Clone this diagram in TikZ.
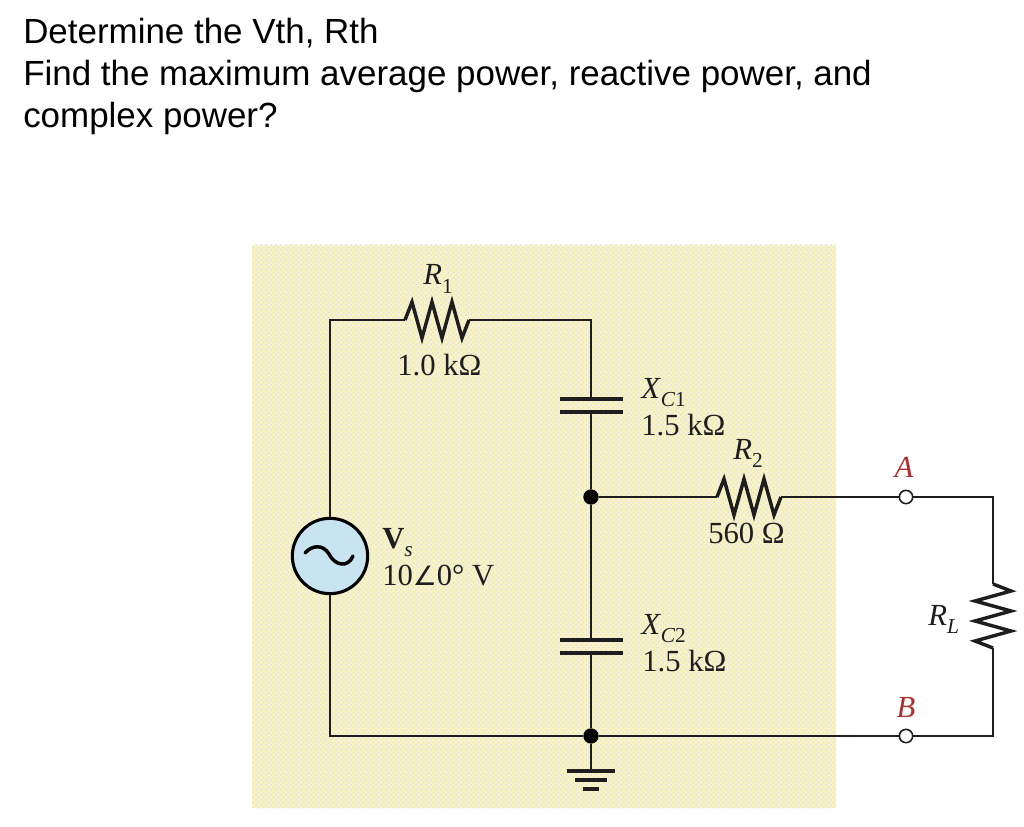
\documentclass[tikz,border=0pt]{standalone}
\usepackage{fontspec}
\setmainfont{Liberation Serif}
\newfontfamily\headfont{Liberation Sans}
\newfontfamily\symfont{DejaVu Sans}
\usetikzlibrary{patterns}
\pgfdeclarepatternformonly{ditherspeck}{\pgfqpoint{0pt}{0pt}}{\pgfqpoint{4pt}{4pt}}{\pgfqpoint{4pt}{4pt}}{
  \pgfpathcircle{\pgfqpoint{1pt}{1pt}}{0.95pt}
  \pgfpathcircle{\pgfqpoint{3pt}{3pt}}{0.95pt}
  \pgfusepath{fill}
}
\definecolor{panel}{RGB}{250,244,190}
\definecolor{speck}{RGB}{226,224,234}
\definecolor{srcblue}{RGB}{200,228,240}
\definecolor{termred}{RGB}{172,48,48}
\definecolor{ink}{RGB}{30,30,30}
\newcommand{\subs}[1]{\raisebox{-6.3pt}{\fontsize{16}{16}\selectfont #1}}
\tikzset{
  x=0.75pt,y=-0.75pt,
  wire/.style={draw=ink,line width=1.4pt},
  plate/.style={draw=ink,line width=3pt},
  head/.style={font=\headfont\fontsize{26.2}{30}\selectfont,anchor=base west,inner sep=0pt,text=black},
  lab/.style={font=\fontsize{23}{26}\selectfont,inner sep=0pt,text=ink,anchor=base west},
  term/.style={font=\fontsize{23}{26}\selectfont\itshape,inner sep=0pt,text=termred,anchor=base},
  junction/.style={circle,fill=black,draw=none,minimum size=11.5pt,inner sep=0pt},
  openterm/.style={circle,fill=white,draw=ink,line width=1.2pt,minimum size=10pt,inner sep=0pt},
  source/.style={circle,draw=black,line width=2.3pt,fill=srcblue,minimum size=56.5pt,inner sep=0pt},
  pics/res/.style={code={
    \coordinate (-a) at (0,0);
    \coordinate (-b) at (64,0);
    \draw[draw=ink,line width=2.6pt,line join=miter,miter limit=10]
      (0,0) -- (7,-18) -- (17,18) -- (27,-18) -- (37,18) -- (47,-18) -- (57,18) -- (64,0);
  }}
}
\begin{document}
\begin{tikzpicture}
\useasboundingbox (0,0) rectangle (1024,827);
\fill[white] (0,0) rectangle (1024,827);
\fill[panel] (252,245) rectangle (836,808);
\fill[pattern=ditherspeck,pattern color=speck] (252,245) rectangle (836,808);

\node[head] at (23,44) {Determine the Vth, Rth};
\node[head] at (23,86) {Find the maximum average power, reactive power, and};
\node[head] at (23,128) {complex power?};

% corner and end coordinates
\coordinate (tl) at (330,320);
\coordinate (tr) at (591,320);
\coordinate (c1t) at (591,399);
\coordinate (c1b) at (591,412);
\coordinate (c2t) at (591,640);
\coordinate (c2b) at (591,653);
\coordinate (bl) at (330,736);
\coordinate (atr) at (993,497);
\coordinate (btr) at (993,736);
\coordinate (g1) at (591,771);
\coordinate (g2) at (591,780);
\coordinate (g3) at (591,789);

\node[source] (vs) at (330,556) {};
\node[junction] (n1) at (591,497) {};
\node[junction] (n2) at (591,736) {};
\node[openterm] (A) at (906,497) {};
\node[openterm] (B) at (906,736) {};

\pic (r1) at (405,320) {res};
\pic (r2) at (717,497) {res};
\pic[rotate=90] (rl) at (993,648) {res};

% wires
\draw[wire] (vs.north) -- (tl) -- (r1-a);
\draw[wire] (r1-b) -- (tr) -- (c1t);
\draw[wire] (c1b) -- (n1);
\draw[wire] (n1) -- (r2-a);
\draw[wire] (r2-b) -- (A);
\draw[wire] (A) -- (atr) -- (rl-b);
\draw[wire] (n1) -- (c2t);
\draw[wire] (c2b) -- (n2);
\draw[wire] (vs.south) -- (bl) -- (n2);
\draw[wire] (n2) -- (B);
\draw[wire] (B) -- (btr) -- (rl-a);
\draw[wire] (n2) -- (g1);

% capacitor plates
\draw[plate] ([xshift=-23.5pt]c1t) -- ([xshift=24pt]c1t);
\draw[plate] ([xshift=-23.5pt]c1b) -- ([xshift=24pt]c1b);
\draw[plate] ([xshift=-23.5pt]c2t) -- ([xshift=24pt]c2t);
\draw[plate] ([xshift=-23.5pt]c2b) -- ([xshift=24pt]c2b);

% ground
\draw[plate] ([xshift=-18pt]g1) -- ([xshift=18pt]g1);
\draw[plate] ([xshift=-12pt]g2) -- ([xshift=12pt]g2);
\draw[plate] ([xshift=-6pt]g3) -- ([xshift=6pt]g3);

% sine
\draw[draw=black,line width=2.6pt,line cap=round] (305,553) .. controls (312,545) and (323,544) .. (329,554) .. controls (335,566) and (348,568) .. (353,556);

% labels
\node[lab] at (423,285) {\textit{R}\subs{1}};
\node[lab] at (397,375) {1.0 kΩ};
\node[lab] at (382,548) {\textbf{V}\subs{\itshape s}};
\node[lab] at (382,585) {10{\symfont\fontsize{20}{20}\selectfont ∠}0° V};
\node[lab] at (641,398) {\textit{X}\subs{\itshape C\upshape 1}};
\node[lab] at (641,435) {1.5 kΩ};
\node[lab] at (733,459) {\textit{R}\subs{2}};
\node[lab] at (708,543) {560 Ω};
\node[lab] at (641,634) {\textit{X}\subs{\itshape C\upshape 2}};
\node[lab] at (642,671) {1.5 kΩ};
\node[lab] at (928,625) {\textit{R}\subs{\itshape L}};
\node[term] at (904,477) {A};
\node[term] at (906,717) {B};
\end{tikzpicture}
\end{document}
